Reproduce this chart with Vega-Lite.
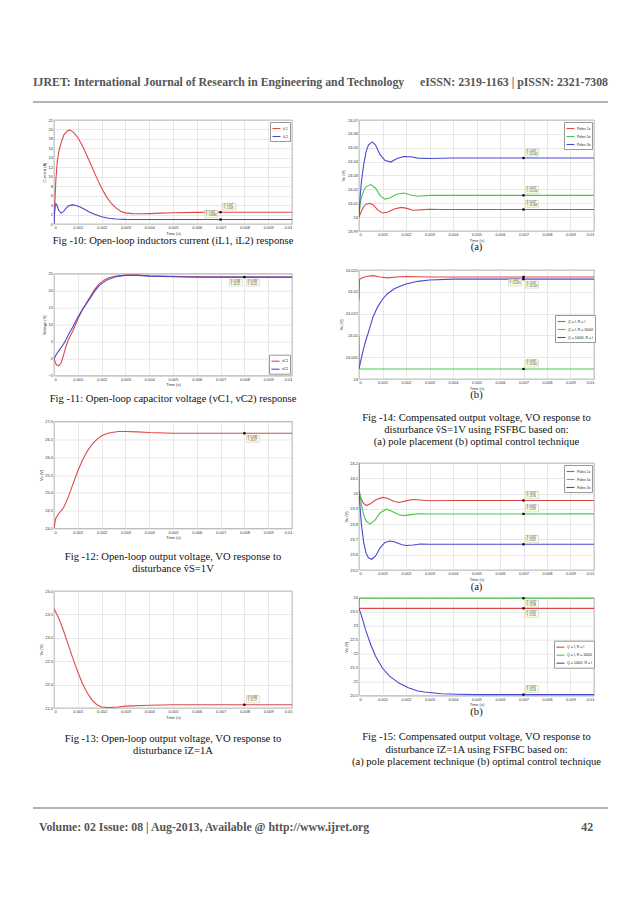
{
"$schema": "https://vega.github.io/schema/vega-lite/v6.json",
"background": "white",
"padding": {"left": 32, "top": 76, "right": 4, "bottom": 4},
"spacing": 14,
"resolve": {"scale": {"color": "independent"}, "legend": {"color": "independent"}},
"config": {
  "view": {"stroke": "#777", "strokeWidth": 0.7},
  "axis": {"labelFont": "Liberation Sans", "labelFontSize": 4, "titleFont": "Liberation Sans", "titleFontSize": 4, "titleFontWeight": "normal", "gridColor": "#d8d8d8", "gridWidth": 0.6, "domain": false, "ticks": false, "labelPadding": 1.5, "titlePadding": 1.5, "labelColor": "#333", "titleColor": "#333"},
  "legend": {"labelFont": "Liberation Sans", "labelFontSize": 3.5, "labelColor": "#222", "symbolType": "stroke", "symbolSize": 64, "symbolStrokeWidth": 0.9, "padding": 1.5, "rowPadding": 0, "labelOffset": 1.5, "strokeColor": "#999", "fillColor": "white", "offset": 2, "title": null, "cornerRadius": 0},
  "title": {"font": "Liberation Serif", "fontSize": 10.6, "fontWeight": "normal", "color": "#111", "orient": "bottom", "anchor": "middle", "lineHeight": 12.3, "subtitleFont": "Liberation Serif", "subtitleFontSize": 10.6, "subtitleColor": "#111", "subtitleLineHeight": 12.3},
  "line": {"strokeWidth": 1.1}
},
"datasets": {
  "f10": [
    {"t":0,"v":0,"s":"iL1"},{"t":0.00004,"v":5,"s":"iL1"},{"t":0.00008,"v":9.5,"s":"iL1"},{"t":0.00014,"v":13.3,"s":"iL1"},{"t":0.0002,"v":15.3,"s":"iL1"},{"t":0.00028,"v":16.9,"s":"iL1"},{"t":0.00042,"v":18.9,"s":"iL1"},{"t":0.00056,"v":19.7,"s":"iL1"},{"t":0.00065,"v":19.9,"s":"iL1"},{"t":0.0008,"v":19.5,"s":"iL1"},{"t":0.001,"v":18.3,"s":"iL1"},{"t":0.0012,"v":16.5,"s":"iL1"},{"t":0.0014,"v":14.3,"s":"iL1"},{"t":0.0016,"v":12,"s":"iL1"},{"t":0.0018,"v":9.7,"s":"iL1"},{"t":0.002,"v":7.6,"s":"iL1"},{"t":0.0022,"v":5.8,"s":"iL1"},{"t":0.0024,"v":4.4,"s":"iL1"},{"t":0.0026,"v":3.4,"s":"iL1"},{"t":0.0028,"v":2.7,"s":"iL1"},{"t":0.003,"v":2.35,"s":"iL1"},{"t":0.0033,"v":2.2,"s":"iL1"},{"t":0.0037,"v":2.17,"s":"iL1"},{"t":0.004,"v":2.2,"s":"iL1"},{"t":0.0045,"v":2.3,"s":"iL1"},{"t":0.005,"v":2.38,"s":"iL1"},{"t":0.006,"v":2.45,"s":"iL1"},{"t":0.007,"v":2.5,"s":"iL1"},{"t":0.01,"v":2.5,"s":"iL1"},
    {"t":0,"v":0,"s":"iL2"},{"t":0.00002,"v":2,"s":"iL2"},{"t":0.00005,"v":3.8,"s":"iL2"},{"t":0.00008,"v":4.3,"s":"iL2"},{"t":0.00012,"v":4.0,"s":"iL2"},{"t":0.0002,"v":2.9,"s":"iL2"},{"t":0.0003,"v":2.3,"s":"iL2"},{"t":0.0004,"v":2.6,"s":"iL2"},{"t":0.0005,"v":3.3,"s":"iL2"},{"t":0.0006,"v":3.8,"s":"iL2"},{"t":0.00075,"v":4.05,"s":"iL2"},{"t":0.0009,"v":3.95,"s":"iL2"},{"t":0.0011,"v":3.6,"s":"iL2"},{"t":0.0013,"v":3.05,"s":"iL2"},{"t":0.0015,"v":2.5,"s":"iL2"},{"t":0.0017,"v":2.05,"s":"iL2"},{"t":0.002,"v":1.55,"s":"iL2"},{"t":0.0023,"v":1.2,"s":"iL2"},{"t":0.0026,"v":1.05,"s":"iL2"},{"t":0.003,"v":0.97,"s":"iL2"},{"t":0.004,"v":0.95,"s":"iL2"},{"t":0.01,"v":0.95,"s":"iL2"}
  ],
  "f10tip": [{"t":0.007,"v":2.5,"lab":"X: 0.007\nY: 2.508"}],
  "f10tipL": [{"t":0.007,"v":0.95,"lab":"X: 0.007\nY: 0.9669"}],
  "f11": [
    {"t":0,"v":0,"s":"vC1"},{"t":0.00005,"v":-1,"s":"vC1"},{"t":0.0001,"v":-1.8,"s":"vC1"},{"t":0.0002,"v":-2.1,"s":"vC1"},{"t":0.0003,"v":-1.2,"s":"vC1"},{"t":0.0004,"v":1,"s":"vC1"},{"t":0.0005,"v":3.6,"s":"vC1"},{"t":0.0006,"v":5.5,"s":"vC1"},{"t":0.0008,"v":8.3,"s":"vC1"},{"t":0.001,"v":11.6,"s":"vC1"},{"t":0.0012,"v":14.5,"s":"vC1"},{"t":0.0015,"v":18,"s":"vC1"},{"t":0.0017,"v":20.3,"s":"vC1"},{"t":0.0019,"v":22,"s":"vC1"},{"t":0.0021,"v":23.1,"s":"vC1"},{"t":0.0023,"v":23.8,"s":"vC1"},{"t":0.0026,"v":24.3,"s":"vC1"},{"t":0.003,"v":24.6,"s":"vC1"},{"t":0.0035,"v":24.6,"s":"vC1"},{"t":0.004,"v":24.4,"s":"vC1"},{"t":0.005,"v":24.2,"s":"vC1"},{"t":0.006,"v":24.1,"s":"vC1"},{"t":0.008,"v":24,"s":"vC1"},{"t":0.01,"v":24,"s":"vC1"},
    {"t":0,"v":0,"s":"vC2"},{"t":0.0001,"v":1.3,"s":"vC2"},{"t":0.0002,"v":2.3,"s":"vC2"},{"t":0.0004,"v":4.3,"s":"vC2"},{"t":0.0005,"v":5.6,"s":"vC2"},{"t":0.0006,"v":7,"s":"vC2"},{"t":0.0008,"v":9.5,"s":"vC2"},{"t":0.001,"v":12.2,"s":"vC2"},{"t":0.0012,"v":14.5,"s":"vC2"},{"t":0.0015,"v":17.6,"s":"vC2"},{"t":0.0017,"v":19.8,"s":"vC2"},{"t":0.0019,"v":21.5,"s":"vC2"},{"t":0.0021,"v":22.6,"s":"vC2"},{"t":0.0023,"v":23.4,"s":"vC2"},{"t":0.0026,"v":24.1,"s":"vC2"},{"t":0.003,"v":24.5,"s":"vC2"},{"t":0.0035,"v":24.5,"s":"vC2"},{"t":0.004,"v":24.3,"s":"vC2"},{"t":0.005,"v":24.1,"s":"vC2"},{"t":0.006,"v":24,"s":"vC2"},{"t":0.01,"v":24,"s":"vC2"}
  ],
  "f11tip": [{"t":0.008,"v":24,"lab":"X: 0.008\nY: 24.02"}],
  "f12": [
    {"t":0,"v":24},{"t":0.00007,"v":24.28},{"t":0.0002,"v":24.42},{"t":0.0004,"v":24.58},{"t":0.0006,"v":24.88},{"t":0.0008,"v":25.25},{"t":0.001,"v":25.62},{"t":0.0012,"v":25.92},{"t":0.0014,"v":26.17},{"t":0.0016,"v":26.36},{"t":0.0018,"v":26.5},{"t":0.002,"v":26.6},{"t":0.0023,"v":26.68},{"t":0.0027,"v":26.72},{"t":0.003,"v":26.72},{"t":0.0035,"v":26.71},{"t":0.004,"v":26.69},{"t":0.005,"v":26.67},{"t":0.01,"v":26.67}
  ],
  "f12tip": [{"t":0.008,"v":26.67,"lab":"X: 0.008\nY: 26.67"}],
  "f13": [
    {"t":0,"v":23.62},{"t":0.0002,"v":23.42},{"t":0.0004,"v":23.15},{"t":0.0006,"v":22.85},{"t":0.0008,"v":22.55},{"t":0.001,"v":22.27},{"t":0.0012,"v":22.02},{"t":0.0014,"v":21.82},{"t":0.0016,"v":21.67},{"t":0.0018,"v":21.57},{"t":0.002,"v":21.52},{"t":0.0023,"v":21.51},{"t":0.0027,"v":21.52},{"t":0.003,"v":21.54},{"t":0.004,"v":21.56},{"t":0.005,"v":21.57},{"t":0.01,"v":21.57}
  ],
  "f13tip": [{"t":0.008,"v":21.57,"lab":"X: 0.008\nY: 21.57"}],
  "f14a": [
    {"t":0,"v":24.0,"s":"Poles 1x"},{"t":0.0001,"v":24.004,"s":"Poles 1x"},{"t":0.0002,"v":24.0075,"s":"Poles 1x"},{"t":0.0003,"v":24.0093,"s":"Poles 1x"},{"t":0.00045,"v":24.0099,"s":"Poles 1x"},{"t":0.0006,"v":24.009,"s":"Poles 1x"},{"t":0.0008,"v":24.005,"s":"Poles 1x"},{"t":0.001,"v":24.003,"s":"Poles 1x"},{"t":0.0012,"v":24.0035,"s":"Poles 1x"},{"t":0.0015,"v":24.0058,"s":"Poles 1x"},{"t":0.0018,"v":24.007,"s":"Poles 1x"},{"t":0.002,"v":24.0065,"s":"Poles 1x"},{"t":0.0023,"v":24.005,"s":"Poles 1x"},{"t":0.0026,"v":24.0052,"s":"Poles 1x"},{"t":0.003,"v":24.0057,"s":"Poles 1x"},{"t":0.0035,"v":24.0055,"s":"Poles 1x"},{"t":0.01,"v":24.0055,"s":"Poles 1x"},
    {"t":0,"v":24.0,"s":"Poles 5x"},{"t":0.00005,"v":24.01,"s":"Poles 5x"},{"t":0.0001,"v":24.014,"s":"Poles 5x"},{"t":0.0002,"v":24.019,"s":"Poles 5x"},{"t":0.0003,"v":24.022,"s":"Poles 5x"},{"t":0.0005,"v":24.0235,"s":"Poles 5x"},{"t":0.0007,"v":24.021,"s":"Poles 5x"},{"t":0.0009,"v":24.0155,"s":"Poles 5x"},{"t":0.0011,"v":24.013,"s":"Poles 5x"},{"t":0.0013,"v":24.0138,"s":"Poles 5x"},{"t":0.0016,"v":24.0165,"s":"Poles 5x"},{"t":0.0019,"v":24.0174,"s":"Poles 5x"},{"t":0.0022,"v":24.016,"s":"Poles 5x"},{"t":0.0025,"v":24.015,"s":"Poles 5x"},{"t":0.003,"v":24.0157,"s":"Poles 5x"},{"t":0.01,"v":24.0157,"s":"Poles 5x"},
    {"t":0,"v":24.0,"s":"Poles 3x"},{"t":0.00005,"v":24.015,"s":"Poles 3x"},{"t":0.0001,"v":24.025,"s":"Poles 3x"},{"t":0.0002,"v":24.038,"s":"Poles 3x"},{"t":0.0003,"v":24.047,"s":"Poles 3x"},{"t":0.0004,"v":24.052,"s":"Poles 3x"},{"t":0.00057,"v":24.0542,"s":"Poles 3x"},{"t":0.0007,"v":24.052,"s":"Poles 3x"},{"t":0.0009,"v":24.045,"s":"Poles 3x"},{"t":0.0011,"v":24.041,"s":"Poles 3x"},{"t":0.00135,"v":24.0397,"s":"Poles 3x"},{"t":0.0016,"v":24.042,"s":"Poles 3x"},{"t":0.0019,"v":24.0437,"s":"Poles 3x"},{"t":0.0022,"v":24.0435,"s":"Poles 3x"},{"t":0.0025,"v":24.0425,"s":"Poles 3x"},{"t":0.003,"v":24.0423,"s":"Poles 3x"},{"t":0.004,"v":24.0426,"s":"Poles 3x"},{"t":0.01,"v":24.0426,"s":"Poles 3x"}
  ],
  "f14atip": [{"t":0.007,"v":24.0055,"lab":"X: 0.007\nY: 24.006"},{"t":0.007,"v":24.0157,"lab":"X: 0.007\nY: 24.016"},{"t":0.007,"v":24.0426,"lab":"X: 0.007\nY: 24.043"}],
  "f14b": [
    {"t":0,"v":24.018,"s":"Q = I, R = I"},{"t":0.00002,"v":24.0228,"s":"Q = I, R = I"},{"t":0.0001,"v":24.0231,"s":"Q = I, R = I"},{"t":0.0003,"v":24.0235,"s":"Q = I, R = I"},{"t":0.0006,"v":24.0237,"s":"Q = I, R = I"},{"t":0.0009,"v":24.0234,"s":"Q = I, R = I"},{"t":0.0012,"v":24.0232,"s":"Q = I, R = I"},{"t":0.0016,"v":24.0234,"s":"Q = I, R = I"},{"t":0.002,"v":24.0235,"s":"Q = I, R = I"},{"t":0.003,"v":24.0234,"s":"Q = I, R = I"},{"t":0.01,"v":24.0234,"s":"Q = I, R = I"},
    {"t":0,"v":24.01,"s":"Q = I, R = 1000I"},{"t":0.00002,"v":24.0023,"s":"Q = I, R = 1000I"},{"t":0.01,"v":24.0023,"s":"Q = I, R = 1000I"},
    {"t":0,"v":24.0023,"s":"Q = 1000I, R = I"},{"t":0.0001,"v":24.0048,"s":"Q = 1000I, R = I"},{"t":0.0002,"v":24.0071,"s":"Q = 1000I, R = I"},{"t":0.0003,"v":24.009,"s":"Q = 1000I, R = I"},{"t":0.0004,"v":24.0107,"s":"Q = 1000I, R = I"},{"t":0.0006,"v":24.0143,"s":"Q = 1000I, R = I"},{"t":0.0008,"v":24.0166,"s":"Q = 1000I, R = I"},{"t":0.001,"v":24.0183,"s":"Q = 1000I, R = I"},{"t":0.0012,"v":24.0195,"s":"Q = 1000I, R = I"},{"t":0.0015,"v":24.0207,"s":"Q = 1000I, R = I"},{"t":0.0018,"v":24.0214,"s":"Q = 1000I, R = I"},{"t":0.002,"v":24.0218,"s":"Q = 1000I, R = I"},{"t":0.0025,"v":24.0224,"s":"Q = 1000I, R = I"},{"t":0.003,"v":24.0227,"s":"Q = 1000I, R = I"},{"t":0.004,"v":24.0229,"s":"Q = 1000I, R = I"},{"t":0.01,"v":24.0229,"s":"Q = 1000I, R = I"}
  ],
  "f14btipL": [{"t":0.007,"v":24.0234,"lab":"X: 0.007\nY: 24.023"}],
  "f14btipR": [{"t":0.007,"v":24.0229,"lab":"X: 0.007\nY: 24.023"}],
  "f14btipU": [{"t":0.007,"v":24.0023,"lab":"X: 0.007\nY: 24.002"}],
  "f15a": [
    {"t":0,"v":24.2,"s":"Poles 1x"},{"t":0.00002,"v":24.0,"s":"Poles 1x"},{"t":0.0001,"v":23.965,"s":"Poles 1x"},{"t":0.0002,"v":23.935,"s":"Poles 1x"},{"t":0.00032,"v":23.922,"s":"Poles 1x"},{"t":0.0005,"v":23.935,"s":"Poles 1x"},{"t":0.0007,"v":23.958,"s":"Poles 1x"},{"t":0.001,"v":23.975,"s":"Poles 1x"},{"t":0.0012,"v":23.97,"s":"Poles 1x"},{"t":0.0015,"v":23.948,"s":"Poles 1x"},{"t":0.0017,"v":23.942,"s":"Poles 1x"},{"t":0.002,"v":23.952,"s":"Poles 1x"},{"t":0.0023,"v":23.961,"s":"Poles 1x"},{"t":0.0026,"v":23.958,"s":"Poles 1x"},{"t":0.003,"v":23.953,"s":"Poles 1x"},{"t":0.004,"v":23.955,"s":"Poles 1x"},{"t":0.01,"v":23.955,"s":"Poles 1x"},
    {"t":0,"v":24.1,"s":"Poles 5x"},{"t":0.00002,"v":24.02,"s":"Poles 5x"},{"t":0.0001,"v":23.93,"s":"Poles 5x"},{"t":0.0002,"v":23.86,"s":"Poles 5x"},{"t":0.0003,"v":23.82,"s":"Poles 5x"},{"t":0.00047,"v":23.8,"s":"Poles 5x"},{"t":0.0007,"v":23.83,"s":"Poles 5x"},{"t":0.0009,"v":23.875,"s":"Poles 5x"},{"t":0.00117,"v":23.898,"s":"Poles 5x"},{"t":0.0014,"v":23.885,"s":"Poles 5x"},{"t":0.0017,"v":23.862,"s":"Poles 5x"},{"t":0.0019,"v":23.856,"s":"Poles 5x"},{"t":0.0022,"v":23.862,"s":"Poles 5x"},{"t":0.0025,"v":23.868,"s":"Poles 5x"},{"t":0.003,"v":23.866,"s":"Poles 5x"},{"t":0.01,"v":23.867,"s":"Poles 5x"},
    {"t":0,"v":24.02,"s":"Poles 3x"},{"t":0.00005,"v":23.9,"s":"Poles 3x"},{"t":0.0001,"v":23.8,"s":"Poles 3x"},{"t":0.0002,"v":23.68,"s":"Poles 3x"},{"t":0.0003,"v":23.61,"s":"Poles 3x"},{"t":0.0004,"v":23.58,"s":"Poles 3x"},{"t":0.00054,"v":23.57,"s":"Poles 3x"},{"t":0.0007,"v":23.59,"s":"Poles 3x"},{"t":0.0009,"v":23.645,"s":"Poles 3x"},{"t":0.0011,"v":23.68,"s":"Poles 3x"},{"t":0.0013,"v":23.69,"s":"Poles 3x"},{"t":0.0015,"v":23.685,"s":"Poles 3x"},{"t":0.0018,"v":23.667,"s":"Poles 3x"},{"t":0.002,"v":23.66,"s":"Poles 3x"},{"t":0.0023,"v":23.664,"s":"Poles 3x"},{"t":0.0026,"v":23.67,"s":"Poles 3x"},{"t":0.003,"v":23.668,"s":"Poles 3x"},{"t":0.01,"v":23.668,"s":"Poles 3x"}
  ],
  "f15atip": [{"t":0.007,"v":23.955,"lab":"X: 0.007\nY: 23.95"},{"t":0.007,"v":23.867,"lab":"X: 0.007\nY: 23.87"},{"t":0.007,"v":23.668,"lab":"X: 0.007\nY: 23.67"}],
  "f15b": [
    {"t":0,"v":23.62,"s":"Q = I, R = I"},{"t":0.01,"v":23.62,"s":"Q = I, R = I"},
    {"t":0,"v":23.62,"s":"Q = I, R = 1000I"},{"t":0.00002,"v":23.98,"s":"Q = I, R = 1000I"},{"t":0.01,"v":23.98,"s":"Q = I, R = 1000I"},
    {"t":0,"v":23.62,"s":"Q = 1000I, R = I"},{"t":0.00014,"v":23.26,"s":"Q = 1000I, R = I"},{"t":0.00028,"v":22.85,"s":"Q = 1000I, R = I"},{"t":0.0005,"v":22.32,"s":"Q = 1000I, R = I"},{"t":0.0007,"v":21.92,"s":"Q = 1000I, R = I"},{"t":0.001,"v":21.48,"s":"Q = 1000I, R = I"},{"t":0.0013,"v":21.2,"s":"Q = 1000I, R = I"},{"t":0.0017,"v":20.95,"s":"Q = 1000I, R = I"},{"t":0.0021,"v":20.78,"s":"Q = 1000I, R = I"},{"t":0.0025,"v":20.67,"s":"Q = 1000I, R = I"},{"t":0.0028,"v":20.63,"s":"Q = 1000I, R = I"},{"t":0.0035,"v":20.57,"s":"Q = 1000I, R = I"},{"t":0.0042,"v":20.55,"s":"Q = 1000I, R = I"},{"t":0.005,"v":20.54,"s":"Q = 1000I, R = I"},{"t":0.01,"v":20.54,"s":"Q = 1000I, R = I"}
  ],
  "f15btip": [{"t":0.007,"v":23.98,"lab":"X: 0.007\nY: 23.98"},{"t":0.007,"v":23.62,"lab":"X: 0.007\nY: 23.62"}],
  "f15btipU": [{"t":0.007,"v":20.54,"lab":"X: 0.007\nY: 20.54"}]
},
"vconcat": [
  {
    "width": 554, "height": 26, "view": {"stroke": null},
    "encoding": {
      "x": {"field": "x", "type": "quantitative", "scale": {"domain": [0, 1], "range": [-21, 554]}, "axis": null},
      "y": {"field": "y", "type": "quantitative", "scale": {"domain": [0, 1]}, "axis": null}
    },
    "layer": [
      {"data": {"values": [{"x": 0, "x2": 1, "y": 0}]}, "mark": {"type": "rule", "color": "#9a9a9a", "strokeWidth": 1.3}, "encoding": {"x2": {"field": "x2"}}},
      {"data": {"values": [{"x": 0, "y": 0.77, "label": "IJRET: International Journal of Research in Engineering and Technology"}]}, "mark": {"type": "text", "align": "left", "baseline": "middle", "font": "Liberation Serif", "fontWeight": "bold", "fontSize": 11.8, "color": "#555"}, "encoding": {"text": {"field": "label"}}},
      {"data": {"values": [{"x": 1, "y": 0.77, "label": "eISSN: 2319-1163 | pISSN: 2321-7308"}]}, "mark": {"type": "text", "align": "right", "baseline": "middle", "font": "Liberation Serif", "fontWeight": "bold", "fontSize": 11.8, "color": "#555"}, "encoding": {"text": {"field": "label"}}}
    ]
  },
  {
    "spacing": 39,
    "resolve": {"scale": {"color": "independent"}, "legend": {"color": "independent"}},
    "vconcat": [
      {
        "spacing": 42,
        "resolve": {"scale": {"color": "independent"}, "legend": {"color": "independent"}},
        "hconcat": [
          {
            "spacing": 12.5,
            "resolve": {"scale": {"color": "independent"}, "legend": {"color": "independent"}},
            "vconcat": [
              {
                "spacing": 23.7,
                "resolve": {"scale": {"color": "independent"}, "legend": {"color": "independent"}},
                "vconcat": [
                  {
                    "width": 238, "height": 104,
                    "title": {"text": "Fig -10: Open-loop inductors current (iL1, iL2) response", "offset": 0.5},
                    "encoding": {
                      "x": {"field": "t", "type": "quantitative", "scale": {"domain": [0, 0.01], "nice": false}, "axis": {"values": [0,0.001,0.002,0.003,0.004,0.005,0.006,0.007,0.008,0.009,0.01], "format": ".3~f", "title": "Time (s)"}},
                      "y": {"field": "v", "type": "quantitative", "scale": {"domain": [0, 22], "nice": false, "zero": false}, "axis": {"values": [0,2,4,6,8,10,12,14,16,18,20,22], "title": "Current (A)"}}
                    },
                    "layer": [
                      {"data": {"name": "f10"}, "mark": {"type": "line", "clip": true}, "encoding": {"color": {"field": "s", "type": "nominal", "scale": {"domain": ["iL1", "iL2"], "range": ["#e04848", "#4848d0"]}, "legend": {"orient": "top-right"}}}},
                      {"data": {"name": "f10tip"}, "mark": {"type": "point", "shape": "M2,-9H15V-2H2Z", "size": 4, "filled": true, "fill": "#ffffe0", "stroke": "#999", "strokeWidth": 0.3, "opacity": 1}},
                      {"data": {"name": "f10tip"}, "mark": {"type": "square", "size": 5, "color": "black", "opacity": 1}},
                      {"data": {"name": "f10tip"}, "mark": {"type": "text", "align": "left", "baseline": "top", "dx": 3, "dy": -8.5, "fontSize": 2.6, "lineHeight": 3, "lineBreak": "\n", "font": "Liberation Sans", "color": "#333"}, "encoding": {"text": {"field": "lab"}}},
                      {"data": {"name": "f10tipL"}, "mark": {"type": "point", "shape": "M-16,-9H-3V-2H-16Z", "size": 4, "filled": true, "fill": "#ffffe0", "stroke": "#999", "strokeWidth": 0.3, "opacity": 1}},
                      {"data": {"name": "f10tipL"}, "mark": {"type": "square", "size": 5, "color": "black", "opacity": 1}},
                      {"data": {"name": "f10tipL"}, "mark": {"type": "text", "align": "left", "baseline": "top", "dx": -15, "dy": -8.5, "fontSize": 2.6, "lineHeight": 3, "lineBreak": "\n", "font": "Liberation Sans", "color": "#333"}, "encoding": {"text": {"field": "lab"}}}
                    ]
                  },
                  {
                    "width": 238, "height": 102,
                    "title": {"text": "Fig -11: Open-loop capacitor voltage (vC1, vC2) response", "offset": 7.5},
                    "encoding": {
                      "x": {"field": "t", "type": "quantitative", "scale": {"domain": [0, 0.01], "nice": false}, "axis": {"values": [0,0.001,0.002,0.003,0.004,0.005,0.006,0.007,0.008,0.009,0.01], "format": ".3~f", "title": "Time (s)"}},
                      "y": {"field": "v", "type": "quantitative", "scale": {"domain": [-5, 25], "nice": false, "zero": false}, "axis": {"values": [-5,0,5,10,15,20,25], "title": "Voltage (V)"}}
                    },
                    "layer": [
                      {"data": {"name": "f11"}, "mark": {"type": "line", "clip": true}, "encoding": {"color": {"field": "s", "type": "nominal", "scale": {"domain": ["vC1", "vC2"], "range": ["#e04848", "#4848d0"]}, "legend": {"orient": "bottom-right"}}}},
                      {"data": {"name": "f11tip"}, "mark": {"type": "point", "shape": "M-15,2H-2V9H-15ZM2,2H15V9H2Z", "size": 4, "filled": true, "fill": "#ffffe0", "stroke": "#999", "strokeWidth": 0.3, "opacity": 1}},
                      {"data": {"name": "f11tip"}, "mark": {"type": "square", "size": 5, "color": "black", "opacity": 1}},
                      {"data": {"name": "f11tip"}, "mark": {"type": "text", "align": "left", "baseline": "top", "dx": 3, "dy": 2.5, "fontSize": 2.6, "lineHeight": 3, "lineBreak": "\n", "font": "Liberation Sans", "color": "#333"}, "encoding": {"text": {"field": "lab"}}},
                      {"data": {"name": "f11tip"}, "mark": {"type": "text", "align": "left", "baseline": "top", "dx": -14, "dy": 2.5, "fontSize": 2.6, "lineHeight": 3, "lineBreak": "\n", "font": "Liberation Sans", "color": "#333"}, "encoding": {"text": {"field": "lab"}}}
                    ]
                  }
                ]
              },
              {
                "width": 238, "height": 107,
                "title": {"text": ["Fig -12: Open-loop output voltage, VO response to", "disturbance ṽS=1V"], "offset": 12.5},
                "encoding": {
                  "x": {"field": "t", "type": "quantitative", "scale": {"domain": [0, 0.01], "nice": false}, "axis": {"values": [0,0.001,0.002,0.003,0.004,0.005,0.006,0.007,0.008,0.009,0.01], "format": ".3~f", "title": "Time (s)"}},
                  "y": {"field": "v", "type": "quantitative", "scale": {"domain": [24, 27], "nice": false, "zero": false}, "axis": {"values": [24,24.5,25,25.5,26,26.5,27], "title": "Vo (V)"}}
                },
                "layer": [
                  {"data": {"name": "f12"}, "mark": {"type": "line", "clip": true, "color": "#e04848"}},
                  {"data": {"name": "f12tip"}, "mark": {"type": "point", "shape": "M2,2H15V9H2Z", "size": 4, "filled": true, "fill": "#ffffe0", "stroke": "#999", "strokeWidth": 0.3, "opacity": 1}},
                  {"data": {"name": "f12tip"}, "mark": {"type": "square", "size": 5, "color": "black", "opacity": 1}},
                  {"data": {"name": "f12tip"}, "mark": {"type": "text", "align": "left", "baseline": "top", "dx": 3, "dy": 2.5, "fontSize": 2.6, "lineHeight": 3, "lineBreak": "\n", "font": "Liberation Sans", "color": "#333"}, "encoding": {"text": {"field": "lab"}}}
                ]
              },
              {
                "width": 238, "height": 117,
                "title": {"text": ["Fig -13: Open-loop output voltage, VO response to", "disturbance ĩZ=1A"], "offset": 14.5},
                "encoding": {
                  "x": {"field": "t", "type": "quantitative", "scale": {"domain": [0, 0.01], "nice": false}, "axis": {"values": [0,0.001,0.002,0.003,0.004,0.005,0.006,0.007,0.008,0.009,0.01], "format": ".3~f", "title": "Time (s)"}},
                  "y": {"field": "v", "type": "quantitative", "scale": {"domain": [21.5, 24], "nice": false, "zero": false}, "axis": {"values": [21.5,22,22.5,23,23.5,24], "title": "Vo (V)"}}
                },
                "layer": [
                  {"data": {"name": "f13"}, "mark": {"type": "line", "clip": true, "color": "#e04848"}},
                  {"data": {"name": "f13tip"}, "mark": {"type": "point", "shape": "M2,-9H15V-2H2Z", "size": 4, "filled": true, "fill": "#ffffe0", "stroke": "#999", "strokeWidth": 0.3, "opacity": 1}},
                  {"data": {"name": "f13tip"}, "mark": {"type": "square", "size": 5, "color": "black", "opacity": 1}},
                  {"data": {"name": "f13tip"}, "mark": {"type": "text", "align": "left", "baseline": "top", "dx": 3, "dy": -8.5, "fontSize": 2.6, "lineHeight": 3, "lineBreak": "\n", "font": "Liberation Sans", "color": "#333"}, "encoding": {"text": {"field": "lab"}}}
                ]
              }
            ]
          },
          {
            "spacing": 11,
            "resolve": {"scale": {"color": "independent"}, "legend": {"color": "independent"}},
            "vconcat": [
              {
                "spacing": 14,
                "resolve": {"scale": {"color": "independent"}, "legend": {"color": "independent"}},
                "vconcat": [
                  {
                    "width": 235, "height": 111,
                    "title": {"text": "(a)", "offset": 0},
                    "encoding": {
                      "x": {"field": "t", "type": "quantitative", "scale": {"domain": [0, 0.01], "nice": false}, "axis": {"values": [0,0.001,0.002,0.003,0.004,0.005,0.006,0.007,0.008,0.009,0.01], "format": ".3~f", "title": "Time (s)"}},
                      "y": {"field": "v", "type": "quantitative", "scale": {"domain": [23.99, 24.07], "nice": false, "zero": false}, "axis": {"values": [23.99,24,24.01,24.02,24.03,24.04,24.05,24.06,24.07], "format": ".2~f", "title": "Vo (V)"}}
                    },
                    "layer": [
                      {"data": {"name": "f14a"}, "mark": {"type": "line", "clip": true}, "encoding": {"color": {"field": "s", "type": "nominal", "scale": {"domain": ["Poles 1x", "Poles 5x", "Poles 3x"], "range": ["#e04848", "#48c848", "#4848d0"]}, "legend": {"orient": "top-right"}}}},
                      {"data": {"name": "f14atip"}, "mark": {"type": "point", "shape": "M2,-9H15V-2H2Z", "size": 4, "filled": true, "fill": "#ffffe0", "stroke": "#999", "strokeWidth": 0.3, "opacity": 1}},
                      {"data": {"name": "f14atip"}, "mark": {"type": "square", "size": 5, "color": "black", "opacity": 1}},
                      {"data": {"name": "f14atip"}, "mark": {"type": "text", "align": "left", "baseline": "top", "dx": 3, "dy": -8.5, "fontSize": 2.6, "lineHeight": 3, "lineBreak": "\n", "font": "Liberation Sans", "color": "#333"}, "encoding": {"text": {"field": "lab"}}}
                    ]
                  },
                  {
                    "width": 235, "height": 109,
                    "title": {"text": "(b)", "subtitle": ["Fig -14: Compensated output voltage, VO response to", "disturbance ṽS=1V using FSFBC based on:", "(a) pole placement (b) optimal control technique"], "subtitlePadding": 12, "offset": 0},
                    "encoding": {
                      "x": {"field": "t", "type": "quantitative", "scale": {"domain": [0, 0.01], "nice": false}, "axis": {"values": [0,0.001,0.002,0.003,0.004,0.005,0.006,0.007,0.008,0.009,0.01], "format": ".3~f", "title": "Time (s)"}},
                      "y": {"field": "v", "type": "quantitative", "scale": {"domain": [24, 24.025], "nice": false, "zero": false}, "axis": {"values": [24,24.005,24.01,24.015,24.02,24.025], "format": ".3~f", "title": "Vo (V)"}}
                    },
                    "layer": [
                      {"data": {"name": "f14b"}, "mark": {"type": "line", "clip": true}, "encoding": {"color": {"field": "s", "type": "nominal", "scale": {"domain": ["Q = I, R = I", "Q = I, R = 1000I", "Q = 1000I, R = I"], "range": ["#e04848", "#48c848", "#4848d0"]}, "legend": {"orient": "none", "legendX": 196, "legendY": 45}}}},
                      {"data": {"name": "f14btipL"}, "mark": {"type": "point", "shape": "M-15,2H-2V9H-15Z", "size": 4, "filled": true, "fill": "#ffffe0", "stroke": "#999", "strokeWidth": 0.3, "opacity": 1}},
                      {"data": {"name": "f14btipL"}, "mark": {"type": "text", "align": "left", "baseline": "top", "dx": -14, "dy": 2.5, "fontSize": 2.6, "lineHeight": 3, "lineBreak": "\n", "font": "Liberation Sans", "color": "#333"}, "encoding": {"text": {"field": "lab"}}},
                      {"data": {"name": "f14btipR"}, "mark": {"type": "point", "shape": "M2,2H15V9H2Z", "size": 4, "filled": true, "fill": "#ffffe0", "stroke": "#999", "strokeWidth": 0.3, "opacity": 1}},
                      {"data": {"name": "f14btipR"}, "mark": {"type": "text", "align": "left", "baseline": "top", "dx": 3, "dy": 2.5, "fontSize": 2.6, "lineHeight": 3, "lineBreak": "\n", "font": "Liberation Sans", "color": "#333"}, "encoding": {"text": {"field": "lab"}}},
                      {"data": {"name": "f14btipU"}, "mark": {"type": "point", "shape": "M2,-9H15V-2H2Z", "size": 4, "filled": true, "fill": "#ffffe0", "stroke": "#999", "strokeWidth": 0.3, "opacity": 1}},
                      {"data": {"name": "f14btipU"}, "mark": {"type": "text", "align": "left", "baseline": "top", "dx": 3, "dy": -8.5, "fontSize": 2.6, "lineHeight": 3, "lineBreak": "\n", "font": "Liberation Sans", "color": "#333"}, "encoding": {"text": {"field": "lab"}}},
                      {"data": {"name": "f14btipL"}, "mark": {"type": "square", "size": 5, "color": "black", "opacity": 1}},
                      {"data": {"name": "f14btipR"}, "mark": {"type": "square", "size": 5, "color": "black", "opacity": 1}},
                      {"data": {"name": "f14btipU"}, "mark": {"type": "square", "size": 5, "color": "black", "opacity": 1}}
                    ]
                  }
                ]
              },
              {
                "spacing": 1.7,
                "resolve": {"scale": {"color": "independent"}, "legend": {"color": "independent"}},
                "vconcat": [
                  {
                    "width": 235, "height": 107,
                    "title": {"text": "(a)", "offset": 0.5},
                    "encoding": {
                      "x": {"field": "t", "type": "quantitative", "scale": {"domain": [0, 0.01], "nice": false}, "axis": {"values": [0,0.001,0.002,0.003,0.004,0.005,0.006,0.007,0.008,0.009,0.01], "format": ".3~f", "title": "Time (s)"}},
                      "y": {"field": "v", "type": "quantitative", "scale": {"domain": [23.5, 24.2], "nice": false, "zero": false}, "axis": {"values": [23.5,23.6,23.7,23.8,23.9,24,24.1,24.2], "format": ".1~f", "title": "Vo (V)"}}
                    },
                    "layer": [
                      {"data": {"name": "f15a"}, "mark": {"type": "line", "clip": true}, "encoding": {"color": {"field": "s", "type": "nominal", "scale": {"domain": ["Poles 1x", "Poles 5x", "Poles 3x"], "range": ["#e04848", "#48c848", "#4848d0"]}, "legend": {"orient": "top-right"}}}},
                      {"data": {"name": "f15atip"}, "mark": {"type": "point", "shape": "M2,-9H15V-2H2Z", "size": 4, "filled": true, "fill": "#ffffe0", "stroke": "#999", "strokeWidth": 0.3, "opacity": 1}},
                      {"data": {"name": "f15atip"}, "mark": {"type": "square", "size": 5, "color": "black", "opacity": 1}},
                      {"data": {"name": "f15atip"}, "mark": {"type": "text", "align": "left", "baseline": "top", "dx": 3, "dy": -8.5, "fontSize": 2.6, "lineHeight": 3, "lineBreak": "\n", "font": "Liberation Sans", "color": "#333"}, "encoding": {"text": {"field": "lab"}}}
                    ]
                  },
                  {
                    "width": 235, "height": 98,
                    "title": {"text": "(b)", "subtitle": ["Fig -15: Compensated output voltage, VO response to", "disturbance ĩZ=1A using FSFBC based on:", "(a) pole placement technique (b) optimal control technique"], "subtitlePadding": 14.5, "offset": 0.5},
                    "encoding": {
                      "x": {"field": "t", "type": "quantitative", "scale": {"domain": [0, 0.01], "nice": false}, "axis": {"values": [0,0.001,0.002,0.003,0.004,0.005,0.006,0.007,0.008,0.009,0.01], "format": ".3~f", "title": "Time (s)"}},
                      "y": {"field": "v", "type": "quantitative", "scale": {"domain": [20.5, 24], "nice": false, "zero": false}, "axis": {"values": [20.5,21,21.5,22,22.5,23,23.5,24], "format": ".1~f", "title": "Vo (V)"}}
                    },
                    "layer": [
                      {"data": {"name": "f15b"}, "mark": {"type": "line", "clip": true}, "encoding": {"color": {"field": "s", "type": "nominal", "scale": {"domain": ["Q = I, R = I", "Q = I, R = 1000I", "Q = 1000I, R = I"], "range": ["#e04848", "#48c848", "#4848d0"]}, "legend": {"orient": "none", "legendX": 195, "legendY": 43}}}},
                      {"data": {"name": "f15btip"}, "mark": {"type": "point", "shape": "M2,2H15V9H2Z", "size": 4, "filled": true, "fill": "#ffffe0", "stroke": "#999", "strokeWidth": 0.3, "opacity": 1}},
                      {"data": {"name": "f15btip"}, "mark": {"type": "square", "size": 5, "color": "black", "opacity": 1}},
                      {"data": {"name": "f15btip"}, "mark": {"type": "text", "align": "left", "baseline": "top", "dx": 3, "dy": 2.5, "fontSize": 2.6, "lineHeight": 3, "lineBreak": "\n", "font": "Liberation Sans", "color": "#333"}, "encoding": {"text": {"field": "lab"}}},
                      {"data": {"name": "f15btipU"}, "mark": {"type": "point", "shape": "M2,-9H15V-2H2Z", "size": 4, "filled": true, "fill": "#ffffe0", "stroke": "#999", "strokeWidth": 0.3, "opacity": 1}},
                      {"data": {"name": "f15btipU"}, "mark": {"type": "square", "size": 5, "color": "black", "opacity": 1}},
                      {"data": {"name": "f15btipU"}, "mark": {"type": "text", "align": "left", "baseline": "top", "dx": 3, "dy": -8.5, "fontSize": 2.6, "lineHeight": 3, "lineBreak": "\n", "font": "Liberation Sans", "color": "#333"}, "encoding": {"text": {"field": "lab"}}}
                    ]
                  }
                ]
              }
            ]
          }
        ]
      },
      {
        "width": 554, "height": 24, "view": {"stroke": null},
        "encoding": {
          "x": {"field": "x", "type": "quantitative", "scale": {"domain": [0, 1], "range": [-21, 554]}, "axis": null},
          "y": {"field": "y", "type": "quantitative", "scale": {"domain": [0, 1]}, "axis": null}
        },
        "layer": [
          {"data": {"values": [{"x": 0, "x2": 1, "y": 1}]}, "mark": {"type": "rule", "color": "#9a9a9a", "strokeWidth": 1.3}, "encoding": {"x2": {"field": "x2"}}},
          {"data": {"values": [{"x": 0.0104, "y": 0.21, "label": "Volume: 02 Issue: 08 | Aug-2013, Available @ http://www.ijret.org"}]}, "mark": {"type": "text", "align": "left", "baseline": "middle", "font": "Liberation Serif", "fontWeight": "bold", "fontSize": 11.8, "color": "#555"}, "encoding": {"text": {"field": "label"}}},
          {"data": {"values": [{"x": 0.974, "y": 0.21, "label": "42"}]}, "mark": {"type": "text", "align": "right", "baseline": "middle", "font": "Liberation Serif", "fontWeight": "bold", "fontSize": 11.8, "color": "#555"}, "encoding": {"text": {"field": "label"}}}
        ]
      }
    ]
  }
]
}
